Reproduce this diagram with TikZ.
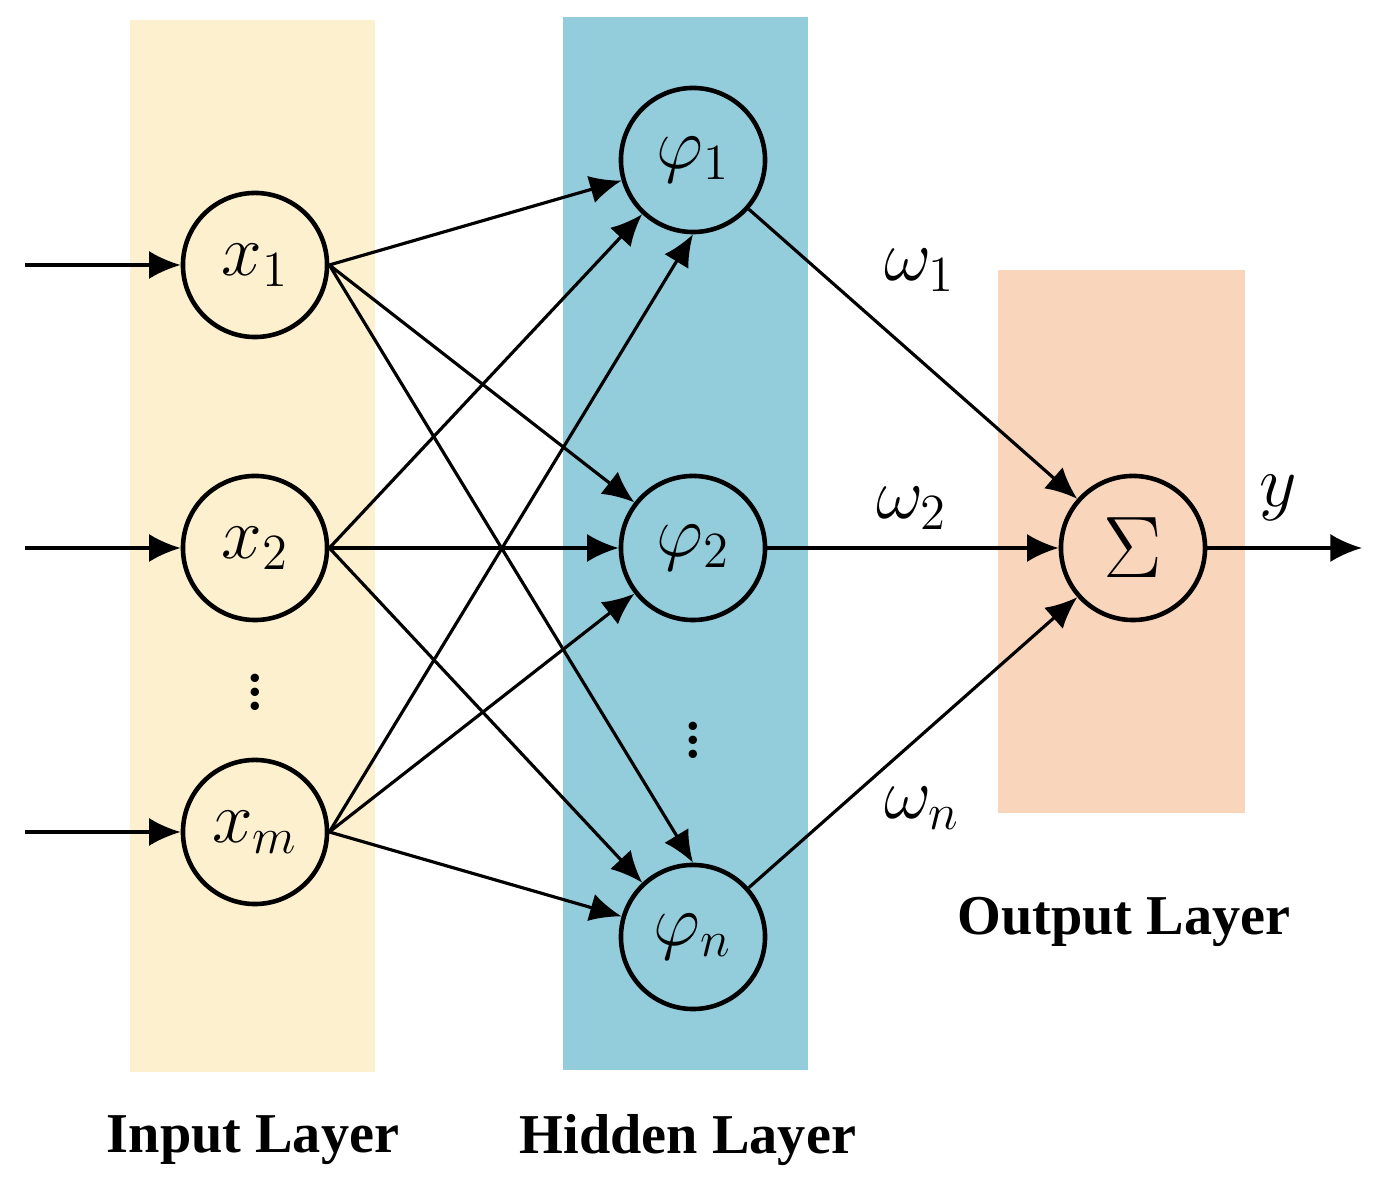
\documentclass[tikz,border=0pt]{standalone}
\usepackage{fontspec}
\setmainfont{Liberation Serif}
\usetikzlibrary{arrows.meta}
\definecolor{inband}{HTML}{FDF0CE}
\definecolor{hidband}{HTML}{93CDDB}
\definecolor{outband}{HTML}{F9D6BB}
\begin{document}
\begin{tikzpicture}[x=0.01cm,y=-0.01cm,
  neuron/.style={circle,draw,line width=1.3pt,minimum size=1.44cm,inner sep=0pt,font=\fontsize{20}{24}\selectfont},
  conn/.style={line width=0.9pt,-{Latex[length=9pt,width=8pt]}},
  lbl/.style={font=\fontsize{16}{19}\selectfont\bfseries}]
\useasboundingbox (0,0) rectangle (1378,1195);
% bands
\fill[inband] (130,20) rectangle (375,1072);
\fill[hidband] (563,17) rectangle (808,1070);
\fill[outband] (998,270) rectangle (1245,813);
% nodes
\node[neuron] (x1) at (255,265) {$x_1$};
\node[neuron] (x2) at (255,548) {$x_2$};
\node[neuron] (xm) at (255,832) {$x_m$};
\node[neuron] (p1) at (693,160) {$\varphi_1$};
\node[neuron] (p2) at (693,548) {$\varphi_2$};
\node[neuron] (pn) at (693,937) {$\varphi_n$};
\node[neuron,font=\fontsize{40}{44}\selectfont] (s) at (1133,548) {$\Sigma$};
\coordinate (i1) at (25,265);
\coordinate (i2) at (25,548);
\coordinate (im) at (25,832);
\coordinate (o) at (1362,548);
% dots
\node[font=\fontsize{20}{24}\selectfont] (d1) at (255,682) {$\vdots$};
\node[font=\fontsize{20}{24}\selectfont] (d2) at (693,730) {$\vdots$};
% connectors
\draw[conn] (i1) -- (x1);
\draw[conn] (i2) -- (x2);
\draw[conn] (im) -- (xm);
\draw[conn] (x1.east) -- (p1);
\draw[conn] (x1.east) -- (p2);
\draw[conn] (x1.east) -- (pn.north);
\draw[conn] (x2.east) -- (p1);
\draw[conn] (x2.east) -- (p2);
\draw[conn] (x2.east) -- (pn);
\draw[conn] (xm.east) -- (p1.south);
\draw[conn] (xm.east) -- (p2);
\draw[conn] (xm.east) -- (pn);
\draw[conn] (p1) -- (s);
\draw[conn] (p2) -- (s);
\draw[conn] (pn) -- (s);
\draw[conn] (s) -- (o);
% weights
\node[font=\fontsize{20}{24}\selectfont] (w1) at (920,270) {$\omega_1$};
\node[font=\fontsize{20}{24}\selectfont] (w2) at (912,508) {$\omega_2$};
\node[font=\fontsize{20}{24}\selectfont] (wn) at (922,808) {$\omega_n$};
\node[font=\fontsize{22}{26}\selectfont] (y) at (1278,498) {$y$};
% labels
\node[lbl] (li) at (253,1140) {Input Layer};
\node[lbl] (lh) at (688,1140) {Hidden Layer};
\node[lbl] (lo) at (1124,922) {Output Layer};
\end{tikzpicture}
\end{document}
